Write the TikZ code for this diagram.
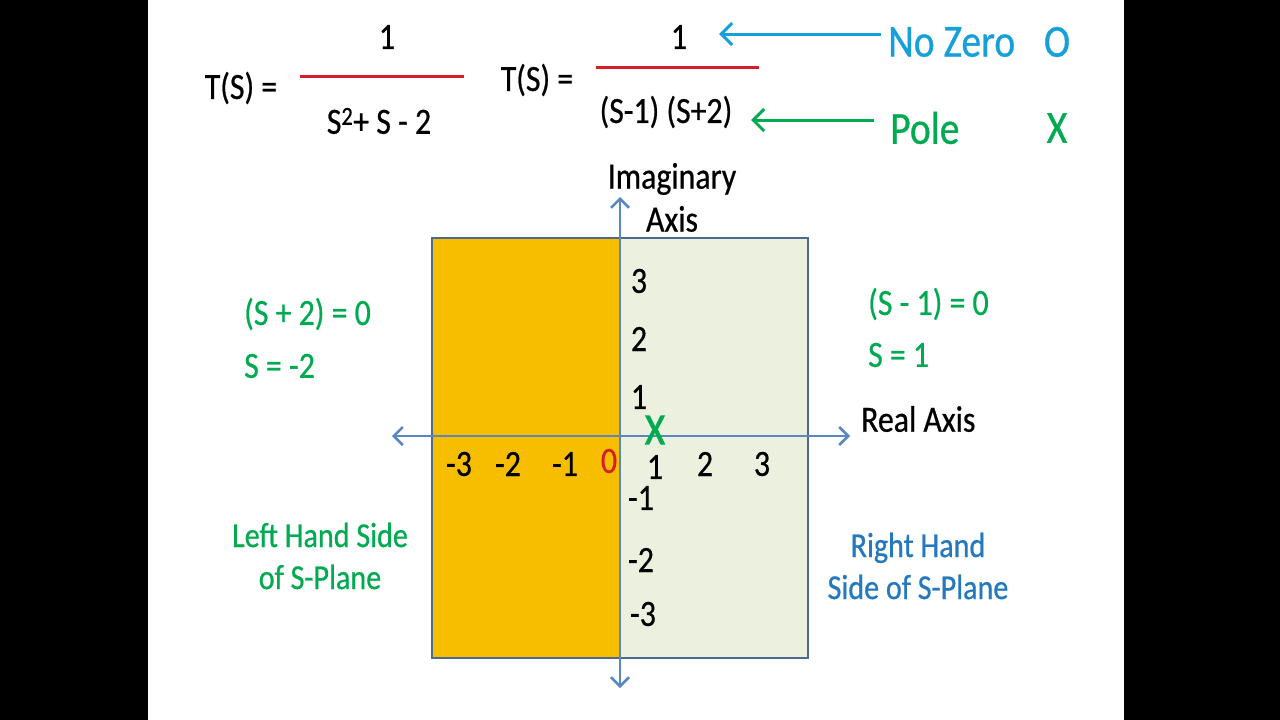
\documentclass[tikz,border=0pt]{standalone}
\usepackage{fontspec}
\setmainfont{Carlito}[FakeStretch=0.86, FakeBold=0.6]
\newfontfamily\markfont{Carlito}[FakeStretch=0.86, FakeBold=2]
\usetikzlibrary{arrows.meta}
\definecolor{zeroblue}{RGB}{22,160,218}
\definecolor{polegreen}{RGB}{0,170,80}
\definecolor{fracred}{RGB}{215,30,40}
\definecolor{lhsorange}{RGB}{247,190,0}
\definecolor{rhsgreen}{RGB}{235,241,222}
\definecolor{boxborder}{RGB}{75,105,145}
\definecolor{axisblue}{RGB}{90,135,195}
\definecolor{rhsblue}{RGB}{35,120,190}
\tikzset{
  txt/.style={inner sep=0pt, font=\fontsize{37}{44}\selectfont},
  bigtxt/.style={inner sep=0pt, font=\fontsize{46}{52}\selectfont},
  sidetxt/.style={inner sep=0pt, font=\fontsize{35}{42}\selectfont, align=center},
  fracline/.style={draw=fracred, line width=3pt},
  callout/.style={line width=3pt, -{Straight Barb[length=11pt,width=22pt,line width=3pt]}},
  axisline/.style={draw=axisblue, line width=2.5pt, {Straight Barb[length=9pt,width=18pt,line width=2.5pt]}-{Straight Barb[length=9pt,width=18pt,line width=2.5pt]}}
}
\begin{document}
\begin{tikzpicture}[x=1pt,y=-1pt]
\useasboundingbox (0,0) rectangle (1280,720);
\fill[black] (0,0) rectangle (1280,720);
\fill[white] (148,0) rectangle (1124,720);

% first fraction
\node[txt] (ts1) at (241,88) {T(S) =};
\node[txt] (num1) at (387,37) {1};
\coordinate (f1l) at (300,76);
\coordinate (f1r) at (464,76);
\draw[fracline] (f1l) -- (f1r);
\node[txt] (den1) at (379,121) {S\textsuperscript{2}+ S - 2};

% second fraction
\node[txt] (ts2) at (537,80) {T(S) =};
\node[txt] (num2) at (679,37) {1};
\coordinate (f2l) at (596,67);
\coordinate (f2r) at (759,67);
\draw[fracline] (f2l) -- (f2r);
\node[txt] (den2) at (666,112) {(S-1) (S+2)};

% callouts
\node[bigtxt, text=zeroblue, anchor=west] (nozero) at (888,42) {No Zero};
\node[bigtxt, text=zeroblue] (osym) at (1057,42) {O};
\coordinate (zs) at (881,34);
\coordinate (ze) at (719,34);
\draw[callout, draw=zeroblue] (zs) -- (ze);

\node[bigtxt, text=polegreen, anchor=west] (pole) at (890,128) {Pole};
\node[bigtxt, text=polegreen] (xsym) at (1057,128) {X};
\coordinate (ps) at (874,120);
\coordinate (pe) at (751,120);
\draw[callout, draw=polegreen] (ps) -- (pe);

% s-plane box
\fill[lhsorange] (432,238) rectangle (620,658);
\fill[rhsgreen] (620,238) rectangle (808,658);
\node[draw=boxborder, line width=2.5pt, inner sep=0pt, minimum width=376pt, minimum height=420pt] (plane) at (620,448) {};

% axes
\coordinate (ytop) at (620,197);
\coordinate (ybot) at (620,688);
\coordinate (xl) at (392,436);
\coordinate (xr) at (850,436);
\draw[axisline] (ybot) -- (ytop);
\draw[axisline] (xl) -- (xr);

\node[txt] (imag1) at (672,179) {Imaginary};
\node[txt] (imag2) at (672,219) {Axis};
\node[txt, anchor=west] (real) at (861,419) {Real Axis};

% tick labels
\node[txt] (y3) at (639,281) {3};
\node[txt] (y2) at (639,339) {2};
\node[txt] (y1) at (639,397) {1};
\node[txt] (ym1) at (641,498) {-1};
\node[txt] (ym2) at (641,560) {-2};
\node[txt] (ym3) at (643,614) {-3};
\node[txt] (xm3) at (459,464) {-3};
\node[txt] (xm2) at (508,464) {-2};
\node[txt] (xm1) at (565,464) {-1};
\node[txt, text=fracred] (x0) at (609,461) {0};
\node[txt] (x1) at (655,467) {1};
\node[txt] (x2) at (705,464) {2};
\node[txt] (x3) at (762,464) {3};
\node[inner sep=0pt, font=\markfont\fontsize{44}{50}\selectfont, text=polegreen] (pole1) at (655,430) {X};

% pole equations
\node[txt, text=polegreen, anchor=west] (eqa) at (244,314) {(S + 2) = 0};
\node[txt, text=polegreen, anchor=west] (eqb) at (244,366) {S = -2};
\node[txt, text=polegreen, anchor=west] (eqc) at (868,304) {(S - 1) = 0};
\node[txt, text=polegreen, anchor=west] (eqd) at (868,355) {S = 1};

% side labels
\node[sidetxt, text=polegreen] (lhs) at (320,556) {Left Hand Side\\of S-Plane};
\node[sidetxt, text=rhsblue] (rhs) at (918,566) {Right Hand\\Side of S-Plane};
\end{tikzpicture}
\end{document}
